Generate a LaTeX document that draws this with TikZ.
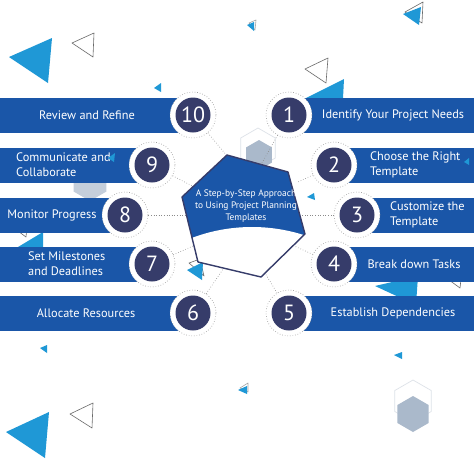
\documentclass[tikz,border=0pt]{standalone}
\usepackage{fontspec}
\setmainfont{PT Sans}
\definecolor{barblue}{HTML}{1A56A8}
\definecolor{navy}{HTML}{363C6A}
\definecolor{tri}{HTML}{1F98D6}
\definecolor{hexgray}{HTML}{AAB9CB}
\definecolor{hexline}{HTML}{DDE2E8}
\definecolor{ringgray}{HTML}{8A8A8A}
\definecolor{outl}{HTML}{6A6A6A}
\begin{document}
\begin{tikzpicture}[x=1pt,y=-1pt,
  bar/.style={rectangle, fill=barblue, draw=none, inner sep=0pt, minimum height=35pt},
  ring/.style={circle, fill=white, draw=ringgray, dotted, line width=0.6pt, minimum size=46pt, inner sep=0pt},
  num/.style={circle, fill=navy, text=white, minimum size=35pt, inner sep=0pt, font=\fontsize{22}{22}\selectfont},
  lbl/.style={text=white, inner sep=0pt, font=\fontsize{12.3}{15}\selectfont},
  conn/.style={draw=ringgray, dotted, line width=0.6pt},
  bluetri/.style={fill=tri, draw=none},
  outtri/.style={draw=outl, line width=0.6pt, fill=none, line join=round},
  hexo/.style={draw=hexline, line width=0.7pt, fill=none},
  hexf/.style={fill=hexgray, draw=none}
]
\useasboundingbox (0,0) rectangle (474,474);
\fill[white] (0,0) rectangle (474,474);

% ---------- background decorations ----------
\fill[bluetri] (9,57) -- (52,38) -- (48,83) -- cycle;
\draw[outtri] (72,43) -- (94,33) -- (93,57) -- cycle;
\draw[outtri, draw=outl!60] (249,23) -- (256,20) -- (255,30) -- cycle;
\fill[bluetri] (247,25) -- (254,22) -- (254,31) -- cycle;
\draw[outtri] (405,12) -- (423,2) -- (422,23) -- cycle;
\fill[bluetri] (403,14) -- (421,7) -- (419,25) -- cycle;
\draw[outtri] (305,69) -- (328,58) -- (326,83) -- cycle;
\fill[bluetri] (306,98) -- (344,79) -- (342,118) -- cycle;
\fill[bluetri] (154,88) -- (161,83) -- (161,92) -- cycle;
\fill[hexgray!70] (90,182) +(90:19pt) -- +(150:19pt) -- +(210:19pt) -- +(270:19pt) -- +(330:19pt) -- +(30:19pt) -- cycle;
\draw[outtri] (10,225) -- (28,215) -- (26,237) -- cycle;
\fill[bluetri] (13,250) -- (43,232) -- (43,262) -- cycle;
\draw[hexo] (258,148) +(90:20pt) -- +(150:20pt) -- +(210:20pt) -- +(270:20pt) -- +(330:20pt) -- +(30:20pt) -- cycle;
\fill[hexf] (259,155) +(90:15pt) -- +(150:15pt) -- +(210:15pt) -- +(270:15pt) -- +(330:15pt) -- +(30:15pt) -- cycle;
\fill[bluetri] (375,286) -- (418,276) -- (416,305) -- cycle;
\draw[outtri] (445,277) -- (462,270) -- (460,288) -- cycle;
\fill[bluetri] (40,348) -- (47,345) -- (47,353) -- cycle;
\fill[bluetri] (394,355) -- (402,352) -- (402,359) -- cycle;
\draw[outtri, draw=outl!60] (240,388) -- (248,383) -- (248,392) -- cycle;
\fill[bluetri] (238,390) -- (247,386) -- (247,394) -- cycle;
\fill[bluetri] (6,432) -- (49,412) -- (45,458) -- cycle;
\draw[outtri] (70,414) -- (93,403) -- (92,428) -- cycle;
\draw[hexo] (413,401) +(90:21pt) -- +(150:21pt) -- +(210:21pt) -- +(270:21pt) -- +(330:21pt) -- +(30:21pt) -- cycle;
\fill[hexf] (413,414) +(90:18pt) -- +(150:18pt) -- +(210:18pt) -- +(270:18pt) -- +(330:18pt) -- +(30:18pt) -- cycle;

% ---------- bars ----------
\node[bar, anchor=west, minimum width=185pt] (bar1) at (289,115) {};
\node[bar, anchor=west, minimum width=140pt] (bar2) at (334,165) {};
\node[bar, anchor=west, minimum width=117pt] (bar3) at (357,215) {};
\node[bar, anchor=west, minimum width=140pt] (bar4) at (334,264) {};
\node[bar, anchor=west, minimum width=185pt] (bar5) at (289,313) {};
\node[bar, anchor=east, minimum width=193pt] (bar10) at (193,115) {};
\node[bar, anchor=east, minimum width=152pt] (bar9) at (152,165) {};
\node[bar, anchor=east, minimum width=125pt] (bar8) at (125,215) {};
\node[bar, anchor=east, minimum width=152pt] (bar7) at (152,264) {};
\node[bar, anchor=east, minimum width=193pt] (bar6) at (193,313) {};

% ---------- bar labels ----------
\node[lbl] (t1) at (393,115) {Identify Your Project Needs};
\node[lbl, anchor=west, align=left] (t2) at (370,165) {Choose the Right\\Template};
\node[lbl, anchor=west, align=left] (t3) at (390,215) {Customize the\\Template};
\node[lbl] (t4) at (414,264) {Break down Tasks};
\node[lbl] (t5) at (393,313) {Establish Dependencies};
\node[lbl] (t10) at (87,115) {Review and Refine};
\node[lbl, anchor=west, align=left] (t9) at (16,165) {Communicate and\\Collaborate};
\node[lbl] (t8) at (52,215) {Monitor Progress};
\node[lbl, anchor=west, align=left] (t7) at (28,264) {Set Milestones\\and Deadlines};
\node[lbl] (t6) at (86,313) {Allocate Resources};

% ---------- hub coordinates ----------
\coordinate (h1) at (227,155);
\coordinate (h2) at (288,172);
\coordinate (h3) at (305,234);
\coordinate (h4) at (261,277);
\coordinate (h5) at (198,262);
\coordinate (h6) at (182,197);
\coordinate (p1) at (258,170);
\coordinate (p2) at (298,182);
\coordinate (p3) at (300,215);
\coordinate (p4) at (292,245);
\coordinate (p5) at (262,268);
\coordinate (p6) at (228,262);
\coordinate (p7) at (200,243);
\coordinate (p8) at (195,215);
\coordinate (p9) at (200,190);
\coordinate (p10) at (232,162);

% ---------- rings ----------
\node[ring] (r1) at (289,115) {};
\node[ring] (r2) at (334,165) {};
\node[ring] (r3) at (357,215) {};
\node[ring] (r4) at (334,264) {};
\node[ring] (r5) at (289,313) {};
\node[ring] (r6) at (193,313) {};
\node[ring] (r7) at (152,264) {};
\node[ring] (r8) at (125,215) {};
\node[ring] (r9) at (152,165) {};
\node[ring] (r10) at (193,115) {};

% ---------- connectors ----------
\foreach \i in {1,...,10} { \draw[conn] (r\i) -- (p\i); }

% ---------- numbers ----------
\node[num] (n1) at (r1) {1};
\node[num] (n2) at (r2) {2};
\node[num] (n3) at (r3) {3};
\node[num] (n4) at (r4) {4};
\node[num] (n5) at (r5) {5};
\node[num] (n6) at (r6) {6};
\node[num] (n7) at (r7) {7};
\node[num] (n8) at (r8) {8};
\node[num] (n9) at (r9) {9};
\node[num] (n10) at (r10) {10};

% ---------- small triangle near hub ----------
\draw[outtri] (189,263) -- (200,259) -- (204,276) -- cycle;
\fill[bluetri] (187,270) -- (203,262) -- (202,280) -- cycle;

% ---------- hub ----------
\fill[barblue] (h1) -- (h2) -- (h3) -- (h4) -- (h5) -- (h6) -- cycle;
\begin{scope}
  \clip (h1) -- (h2) -- (h3) -- (h4) -- (h5) -- (h6) -- cycle;
  \fill[white] (252,397) circle[radius=170pt];
\end{scope}
\draw[navy, line width=1.4pt, line join=round] (h1) -- (h2) -- (h3) -- (h4) -- (h5) -- (h6) -- cycle;
\node[text=white, align=center, inner sep=0pt, font=\fontsize{9.4}{12}\selectfont] (hub) at (246,206)
  {A Step-by-Step Approach\\to Using Project Planning\\Templates};

% ---------- foreground small triangles ----------
\fill[bluetri] (108,158) -- (115,153) -- (114,162) -- cycle;
\fill[bluetri] (464,162) -- (469,158) -- (469,165) -- cycle;
\fill[bluetri] (307,197) -- (314,193) -- (315,200) -- cycle;
\end{tikzpicture}
\end{document}
